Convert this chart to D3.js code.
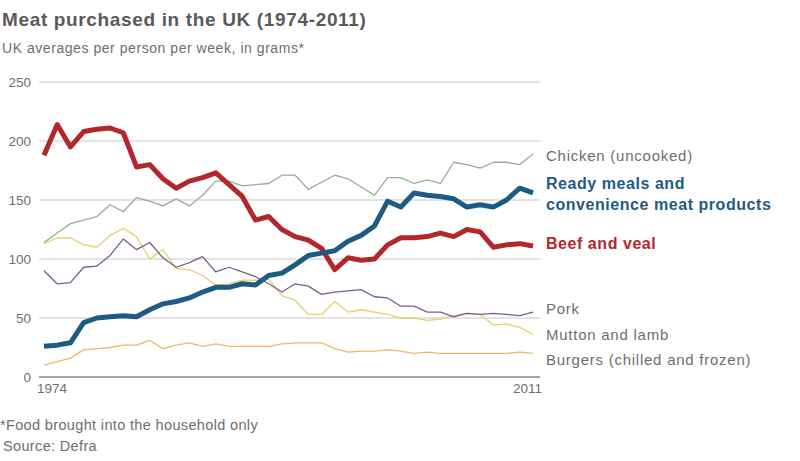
<!DOCTYPE html>
<html>
<head>
<meta charset="utf-8">
<script src="https://cdnjs.cloudflare.com/ajax/libs/d3/7.8.5/d3.min.js"></script>
<style>
  body { margin: 0; background: #fff; }
  text { font-family: "Liberation Sans", Arial, sans-serif; }
</style>
</head>
<body>
<div id="chart"></div>
<script>
// data, grams per person per week
var years = d3.range(1974, 2012);
var chicken = [114,122,130,133,136,146,140,152,149,145,151,145,154,166,166,162,163,164,171,171,159,165,171,168,161,154,169,169,164,167,164,182,180,177,182,182,180,189];
var readyMeals = [26,27,29,46,50,51,52,51,57,62,64,67,72,76,76,79,78,86,88,95,103,105,107,115,120,128,149,144,156,154,153,151,144,146,144,150,160,156];
var beef = [188,214,195,208,210,211,207,178,180,168,160,166,169,173,163,153,133,136,125,119,116,109,91,101,99,100,112,118,118,119,122,119,125,123,110,112,113,111];
var pork = [90,79,80,93,94,103,117,108,114,101,93,97,102,89,93,89,85,79,72,79,77,70,72,73,74,68,67,60,60,55,55,51,54,53,54,53,52,55];
var mutton = [113,118,118,112,110,120,126,119,100,108,92,91,86,78,79,82,82,83,69,65,53,53,64,55,57,55,53,50,50,48,49,52,54,53,44,45,42,36];
var burgers = [10,13,16,23,24,25,27,27,31,24,27,29,26,28,26,26,26,26,28,29,29,29,24,21,22,22,23,22,20,21,20,20,20,20,20,20,21,20];
var yTicks = [0, 50, 100, 150, 200, 250];

var series = [
  { name: "Burgers (chilled and frozen)", values: burgers, color: "#f4b46a", width: 1.3, labelColor: "#6e6e6e", bold: false, labelY: [365] },
  { name: "Mutton and lamb", values: mutton, color: "#e5d06a", width: 1.3, labelColor: "#6e6e6e", bold: false, labelY: [340] },
  { name: "Pork", values: pork, color: "#7d5c8c", width: 1.3, labelColor: "#6e6e6e", bold: false, labelY: [314] },
  { name: "Chicken (uncooked)", values: chicken, color: "#93b08e", width: 1.3, labelColor: "#6e6e6e", bold: false, labelY: [161] },
  { name: "Beef and veal", values: beef, color: "#b3272b", width: 5, labelColor: "#b3272b", bold: true, labelY: [249] },
  { name: ["Ready meals and", "convenience meat products"], values: readyMeals, color: "#1d5b84", width: 5, labelColor: "#1d5b84", bold: true, labelY: [189, 210] }
];

var width = 800, height = 461;
var svg = d3.select("#chart").append("svg")
  .attr("width", width)
  .attr("height", height);

var x = d3.scaleLinear().domain([1974, 2011]).range([44, 533]);
var y = d3.scaleLinear().domain([0, 250]).range([377, 82]);

svg.append("text")
  .attr("x", 2).attr("y", 26)
  .style("font-size", "19px").style("font-weight", "bold")
  .style("letter-spacing", "0.65px")
  .attr("fill", "#5a5a5a")
  .text("Meat purchased in the UK (1974-2011)");

svg.append("text")
  .attr("x", 2).attr("y", 53)
  .style("font-size", "14px")
  .style("letter-spacing", "0.55px")
  .attr("fill", "#6e6e6e")
  .text("UK averages per person per week, in grams*");

// gridlines
svg.append("g")
  .selectAll("line")
  .data(yTicks.filter(d => d > 0))
  .enter().append("line")
  .attr("x1", 39).attr("x2", 540)
  .attr("y1", d => y(d)).attr("y2", d => y(d))
  .attr("stroke", "#c8c8c8").attr("stroke-width", 1);

var yAxis = svg.append("g")
  .attr("transform", "translate(31,0)")
  .call(d3.axisLeft(y).tickValues(yTicks).tickSize(0).tickPadding(0));
yAxis.select(".domain").remove();
yAxis.selectAll("text")
  .style("font-size", "13.5px")
  .style("font-family", "'Liberation Sans', Arial, sans-serif")
  .attr("fill", "#6e6e6e");

svg.append("line")
  .attr("x1", 39).attr("x2", 540)
  .attr("y1", y(0)).attr("y2", y(0))
  .attr("stroke", "#888").attr("stroke-width", 1.5);

svg.append("text")
  .attr("x", 37).attr("y", 393)
  .style("font-size", "13.5px").attr("fill", "#6e6e6e")
  .text("1974");
svg.append("text")
  .attr("x", 542).attr("y", 393).attr("text-anchor", "end")
  .style("font-size", "13.5px").attr("fill", "#6e6e6e")
  .text("2011");

var line = d3.line()
  .x((d, i) => x(years[i]))
  .y(d => y(d));

series.forEach(function (s) {
  svg.append("path")
    .datum(s.values)
    .attr("fill", "none")
    .attr("stroke", s.color)
    .attr("stroke-width", s.width)
    .attr("stroke-linejoin", "round")
    .attr("d", line);

  var names = Array.isArray(s.name) ? s.name : [s.name];
  names.forEach(function (n, j) {
    svg.append("text")
      .attr("x", 546).attr("y", s.labelY[j])
      .style("font-size", s.bold ? "16px" : "15px")
      .style("font-weight", s.bold ? "bold" : "normal")
      .style("letter-spacing", s.bold ? "0.55px" : "0.75px")
      .attr("fill", s.labelColor)
      .text(n);
  });
});

svg.append("text")
  .attr("x", 0).attr("y", 430)
  .style("font-size", "14.5px").style("letter-spacing", "0.35px")
  .attr("fill", "#6e6e6e")
  .text("*Food brought into the household only");
svg.append("text")
  .attr("x", 3).attr("y", 451)
  .style("font-size", "14.5px").style("letter-spacing", "0.35px")
  .attr("fill", "#6e6e6e")
  .text("Source: Defra");
</script>
</body>
</html>
